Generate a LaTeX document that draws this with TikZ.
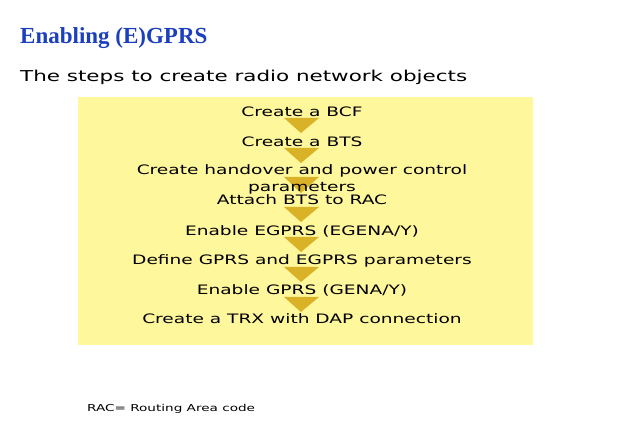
\documentclass[tikz,border=0pt]{standalone}
\usepackage{fontspec, tkz-euclide}
\newfontfamily\stepfont[FakeStretch=1.43]{DejaVu Sans}
\newfontfamily\titlefont{Liberation Serif}
\definecolor{boxyellow}{RGB}{255,247,155}
\definecolor{arrowgold}{RGB}{218,178,40}
\definecolor{titleblue}{RGB}{28,63,190}
\tikzset{
    steptext/.style={inner sep=0pt, font=\stepfont\fontsize{13}{13}\selectfont},
}

\begin{document}
\begin{tikzpicture}[x=1pt, y=1pt]
    \useasboundingbox[fill=white] (0,0) rectangle (638,442);
    \fill[boxyellow] (78,97) rectangle (533,345);
    % arrows between the steps
    \tkzDefPoints{284/324/a1, 319/324/b1, 301/309/c1}
    \tkzDefPoints{284/294/a2, 319/294/b2, 301/279/c2}
    \tkzDefPoints{284/265/a3, 319/265/b3, 301/249/c3}
    \tkzDefPoints{284/235/a4, 319/235/b4, 301/220/c4}
    \tkzDefPoints{284/205/a5, 319/205/b5, 301/190/c5}
    \tkzDefPoints{284/175/a6, 319/175/b6, 301/160/c6}
    \tkzDefPoints{284/145/a7, 319/145/b7, 301/130/c7}
    \tkzFillPolygon[fill=arrowgold](a1,b1,c1)
    \tkzFillPolygon[fill=arrowgold](a2,b2,c2)
    \tkzFillPolygon[fill=arrowgold](a3,b3,c3)
    \tkzFillPolygon[fill=arrowgold](a4,b4,c4)
    \tkzFillPolygon[fill=arrowgold](a5,b5,c5)
    \tkzFillPolygon[fill=arrowgold](a6,b6,c6)
    \tkzFillPolygon[fill=arrowgold](a7,b7,c7)
    % headings
    \node[anchor=west, inner sep=0pt, text=titleblue, font=\titlefont\bfseries\fontsize{23}{23}\selectfont] (title) at (20,404) {Enabling (E)GPRS};
    \node[anchor=west, steptext, font=\stepfont\fontsize{15}{15}\selectfont] (subtitle) at (20,365) {The steps to create radio network objects};
    % steps
    \node[steptext] (bcf) at (302,330) {Create a BCF};
    \node[steptext] (bts) at (302,300) {Create a BTS};
    \node[steptext] (hopc) at (302,271) {Create handover and power control};
    \node[steptext] (params) at (302,254) {parameters};
    \node[steptext] (rac) at (302,242) {Attach BTS to RAC};
    \node[steptext] (egena) at (302,211) {Enable EGPRS (EGENA/Y)};
    \node[steptext] (gprsparams) at (302,181) {Define GPRS and EGPRS parameters};
    \node[steptext] (gena) at (302,152) {Enable GPRS (GENA/Y)};
    \node[steptext] (trx) at (302,123) {Create a TRX with DAP connection};
    % footnote
    \node[anchor=west, steptext, font=\stepfont\fontsize{9.5}{9.5}\selectfont] (note) at (87,33) {RAC= Routing Area code};
\end{tikzpicture}
\end{document}
